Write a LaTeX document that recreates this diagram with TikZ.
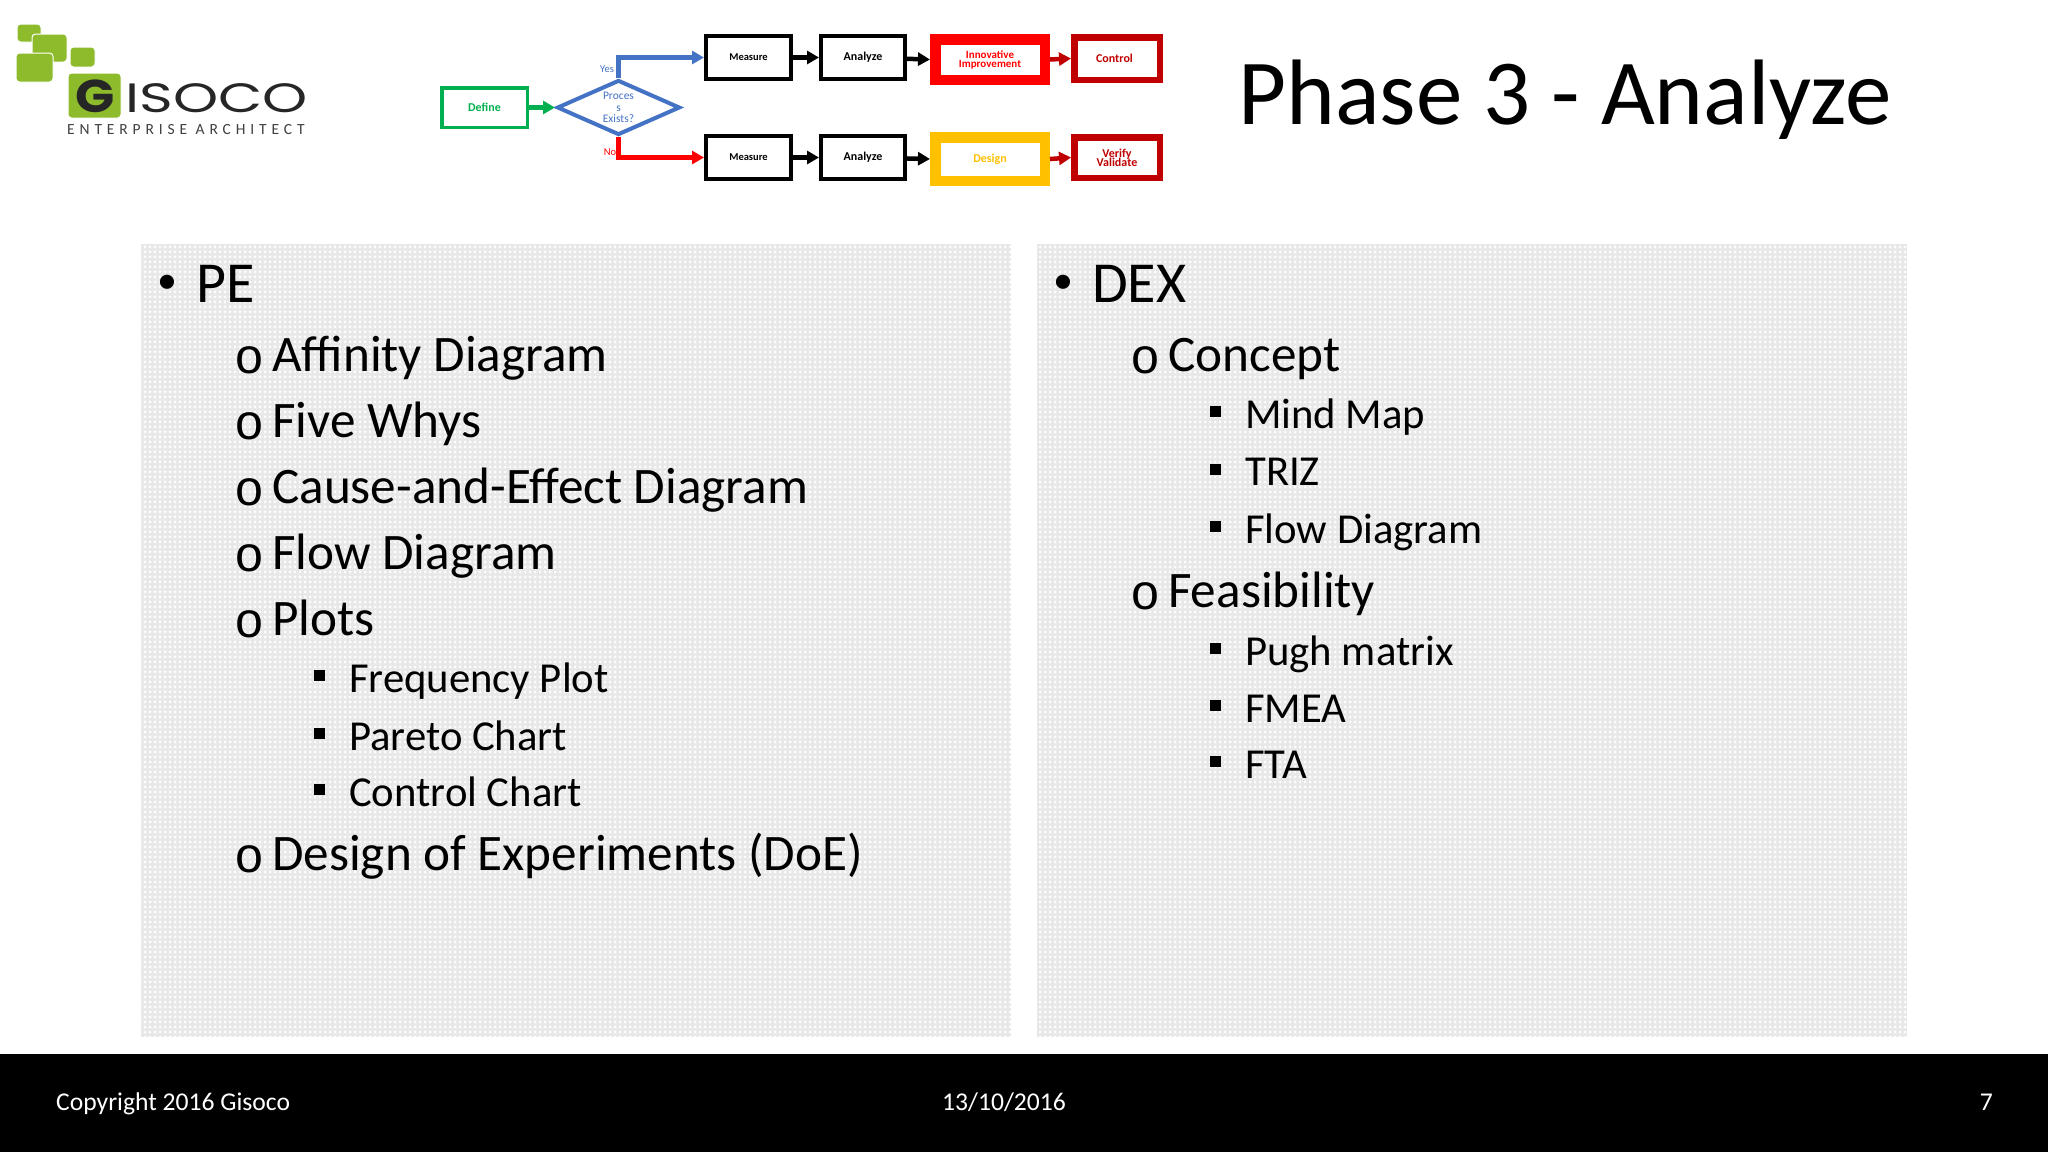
\documentclass[tikz,border=0pt]{standalone}
\usepackage{fontspec}
\setmainfont{Carlito}
\newfontfamily\logofont{Poppins}
\newfontfamily\monofont{Liberation Mono}
\usetikzlibrary{arrows.meta,shapes.geometric,patterns.meta}
\definecolor{gblue}{HTML}{4472C4}
\definecolor{ggreen}{HTML}{00B050}
\definecolor{gred}{HTML}{FF0000}
\definecolor{gdark}{HTML}{C00000}
\definecolor{gyellow}{HTML}{FFC000}
\definecolor{glogo}{HTML}{8DBB2C}
\newcommand{\fs}[1]{\fontsize{#1}{#1}\selectfont}
\tikzset{
 x=1pt,y=-1pt,
 flowbox/.style={draw,fill=white,inner sep=0pt,align=center,font=\fs{12}\bfseries},
 flow/.style={line width=4.5pt,-{Triangle[length=12pt,width=13pt]}},
 panel/.style={fill=black!9,draw=none},
 dotted panel/.style={pattern={Dots[distance=5pt,radius=1.5pt]},pattern color=white},
 lone/.style={anchor=base west,font=\fs{58},inner sep=0pt},
 bulletmark/.style={anchor=base west,font=\fs{40},inner sep=0pt},
 ohmark/.style={anchor=base west,font=\monofont\fs{50},inner sep=0pt},
 ltwo/.style={anchor=base west,font=\fs{51.2},inner sep=0pt},
 lthree/.style={anchor=base west,font=\fs{42.7},inner sep=0pt},
 foot/.style={text=white,font=\fs{25.6},inner sep=0pt,anchor=base},
 logo/.style={fill=glogo,rounded corners=3.5pt,draw=white,line width=1pt},
 sq/.style={fill=black,minimum size=11pt,inner sep=0pt},
}
\begin{document}
\begin{tikzpicture}
\useasboundingbox (0,0) rectangle (2048,1152);
\fill[white] (0,0) rectangle (2048,1152);
% logo
\fill[logo] (17,24) rectangle (41,42);
\fill[logo] (32,34) rectangle (67,62);
\fill[logo] (16,53) rectangle (53,82);
\fill[logo] (70,47) rectangle (95,67);
\fill[logo] (68,73) rectangle (121,118);
\node[inner sep=0pt,anchor=base,font=\logofont\fs{46}\bfseries,text=black!85,xscale=1.12] (logog) at (95,112) {G};
\node[inner sep=0pt,anchor=base west,font=\logofont\fs{41},text=black!85,xscale=1.4] (logot) at (125,112) {ISOCO};
\node[inner sep=0pt,anchor=base west,font=\fs{15.5},text=black!75] (logos) at (67,134) {\addfontfeature{LetterSpace=31.5}ENTERPRISE ARCHITECT};
% flow
\node[flowbox,draw=ggreen,line width=3.5pt,text=ggreen,minimum width=85.5pt,minimum height=39.5pt] (def) at (484.5,107.5) {Define};
\node[diamond,draw=gblue,fill=white,line width=4pt,inner sep=0pt,aspect=2.2,minimum width=123pt,minimum height=55pt,text=gblue,align=center,font=\fs{11.5}] (dec) at (618.5,107.5) {Proces\\s\\Exists?};
\node[flowbox,draw=black,line width=4pt,minimum width=85pt,minimum height=43pt,font=\fs{10.5}\bfseries] (m1) at (748.5,57.5) {Measure};
\node[flowbox,draw=black,line width=4pt,minimum width=85pt,minimum height=43pt,font=\fs{10.5}\bfseries] (m2) at (748.5,157.5) {Measure};
\node[flowbox,draw=black,line width=4pt,minimum width=84pt,minimum height=43pt] (a1) at (863,57.5) {Analyze};
\node[flowbox,draw=black,line width=4pt,minimum width=84pt,minimum height=43pt] (a2) at (863,157.5) {Analyze};
\node[flowbox,draw=gred,text=gred,line width=10.5pt,minimum width=109.5pt,minimum height=40.5pt,font=\fs{11}\bfseries] (inn) at (990,59.5) {Innovative\\[-2pt]Improvement};
\node[flowbox,draw=gyellow,text=gyellow,line width=10.5pt,minimum width=109.5pt,minimum height=43.5pt] (des) at (990,159) {Design};
\node[flowbox,draw=gdark,text=gdark,line width=6.5pt,minimum width=85.5pt,minimum height=42.5pt] (con) at (1117,58.5) {Control\hspace{5pt}};
\node[flowbox,draw=gdark,text=gdark,line width=6.5pt,minimum width=85.5pt,minimum height=40.5pt,font=\fs{12}\bfseries] (ver) at (1117,157.5) {Verify\\[-3pt]Validate};
\draw[flow,ggreen] (def) -- (dec);
\draw[flow,gblue] (dec.north) |- (m1.west);
\draw[flow,gred] (dec.south) |- (m2.west);
\draw[flow,black] (m1) -- (a1);
\draw[flow,black] (m2) -- (a2);
\draw[flow,black] (a1) -- (inn.west);
\draw[flow,black] (a2) -- (des.west);
\draw[flow,gdark] (inn.east) -- (con.west);
\draw[flow,gdark] (des.east) -- (ver.west);
\node[inner sep=0pt,text=gblue,font=\fs{10.5}] (yes) at (607,69) {Yes};
\node[inner sep=0pt,text=gred,font=\fs{10.5}] (no) at (610,152) {No};
% title
\node[inner sep=0pt,anchor=base west,font=\fs{93}] (title) at (1238,124) {Phase 3 - Analyze};
% panels
\fill[panel] (141,244) rectangle (1011,1037);
\fill[dotted panel] (141,244) rectangle (1011,1037);
\fill[panel] (1037,244) rectangle (1907,1037);
\fill[dotted panel] (1037,244) rectangle (1907,1037);
% left text
\node[bulletmark] (lb) at (157,293.5) {•};
\node[lone] (l1) at (196,302) {PE};
\foreach \t/\y [count=\i] in {Affinity Diagram/371,Five Whys/437.5,Cause-and-Effect Diagram/503,Flow Diagram/569.5,Plots/635.5,Design of Experiments (DoE)/870}{
  \node[ohmark] (lo\i) at (234,\y+2) {o};
  \node[ltwo] (lt\i) at (272,\y) {\t};
}
\foreach \t/\y [count=\i] in {Frequency Plot/692,Pareto Chart/750,Control Chart/806}{
  \node[sq] (ls\i) at (319,\y-16.5) {};
  \node[lthree] (lu\i) at (349,\y) {\t};
}
% right text
\node[bulletmark] (rb) at (1053,293.5) {•};
\node[lone] (r1) at (1092,302) {DEX};
\foreach \t/\y [count=\i] in {Concept/371,Feasibility/607.5}{
  \node[ohmark] (ro\i) at (1130,\y+2) {o};
  \node[ltwo] (rt\i) at (1168,\y) {\t};
}
\foreach \t/\y [count=\i] in {Mind Map/428,TRIZ/485.5,Flow Diagram/543,Pugh matrix/665,FMEA/722,FTA/778}{
  \node[sq] (rs\i) at (1215,\y-16.5) {};
  \node[lthree] (ru\i) at (1245,\y) {\t};
}
% footer
\fill[black] (0,1054) rectangle (2048,1152);
\node[foot,anchor=base west] (f1) at (56,1110) {Copyright 2016 Gisoco};
\node[foot] (f2) at (1004,1110) {13/10/2016};
\node[foot,anchor=base east] (f3) at (1993,1110) {7};
\end{tikzpicture}
\end{document}
